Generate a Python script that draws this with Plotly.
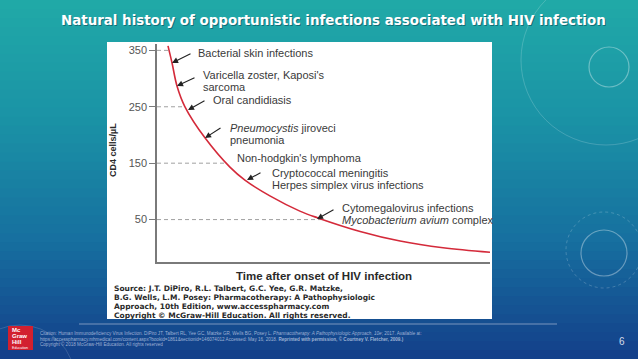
import numpy as np
import plotly.graph_objects as go

# ---------------- data ----------------
time_pts = [0.33, 0.45, 0.60, 0.84, 1.44, 2.19, 2.64, 3.39, 4.29, 4.83, 6.10, 7.30, 8.59, 10.0]
cd4_pts = [358, 328, 287, 250, 195, 143, 120, 92, 65, 53, 29, 12, 0, -8]
tick_vals = [50, 150, 250, 350]
tick_text = ["50", "150", "250", "350"]

W, H = 638, 359
L, R, T, B = 157, 490, 44, 262   # plot area in pixels


def px(x):
    return (x - L) / (R - L)


def py(y):
    return (B - y) / (B - T)


fig = go.Figure()

# dashed guides from axis to curve
t_rev = np.array(time_pts)[::-1]
c_rev = np.array(cd4_pts)[::-1]
for v in tick_vals:
    xe = float(np.interp(v, c_rev, t_rev))
    fig.add_trace(go.Scatter(x=[0, xe], y=[v, v], mode="lines",
                             line=dict(color="#a0a0a0", width=1, dash="4px,3px"),
                             hoverinfo="skip", showlegend=False))

fig.add_trace(go.Scatter(x=time_pts, y=cd4_pts, mode="lines",
                         line=dict(color="#d42a3a", width=1.6, shape="spline", smoothing=1.0),
                         showlegend=False, cliponaxis=True))

shapes = []
# background gradient stripes
stops = [(0, (33, 170, 168)), (120, (27, 147, 166)), (240, (23, 112, 160)), (359, (20, 63, 138))]
n = 40
for i in range(n):
    y0 = i * H / n
    y1 = (i + 1) * H / n + 0.8
    ym = (y0 + y1) / 2
    for k in range(len(stops) - 1):
        if stops[k][0] <= ym <= stops[k + 1][0] or k == len(stops) - 2:
            a, b = stops[k], stops[k + 1]
            break
    f = min(max((ym - a[0]) / (b[0] - a[0]), 0), 1)
    c = tuple(int(a[1][j] + f * (b[1][j] - a[1][j])) for j in range(3))
    shapes.append(dict(type="rect", xref="paper", yref="paper", x0=px(-2), x1=px(W + 2),
                       y0=py(y1), y1=py(y0), fillcolor="rgb(%d,%d,%d)" % c,
                       line=dict(width=0), layer="below"))


# decorative circles
def circ(cx, cy, r, color, dash="solid", w=1):
    shapes.append(dict(type="circle", xref="paper", yref="paper",
                       x0=px(cx - r), x1=px(cx + r), y0=py(cy + r), y1=py(cy - r),
                       line=dict(color=color, width=w, dash=dash), layer="below"))


circ(609, 67, 20, "rgba(255,255,255,0.35)", w=1.2)
circ(606, 60, 85, "rgba(255,255,255,0.18)")
circ(604, 253, 23, "rgba(255,255,255,0.35)", w=1.2)
circ(604, 250, 38, "rgba(255,255,255,0.2)", dash="dot")
circ(20, 380, 55, "rgba(255,255,255,0.15)")

# white picture box
shapes.append(dict(type="rect", xref="paper", yref="paper", x0=px(107), x1=px(492),
                   y0=py(319), y1=py(42), fillcolor="white", line=dict(width=0), layer="below"))
# thin line under box
shapes.append(dict(type="line", xref="paper", yref="paper", x0=px(79), x1=px(557),
                   y0=py(324), y1=py(324), line=dict(color="rgba(190,205,225,0.6)", width=1)))
# logo square
shapes.append(dict(type="rect", xref="paper", yref="paper", x0=px(8), x1=px(33),
                   y0=py(350), y1=py(326), fillcolor="#d2202f", line=dict(width=0)))

ann = []
FONT = "Liberation Sans, Arial, Helvetica, sans-serif"


def text(x, y, s, size=11, color="#3a3a3a", xanchor="left", **kw):
    ann.append(dict(x=px(x), y=py(y), xref="paper", yref="paper", text=s, showarrow=False,
                    xanchor=xanchor, yanchor="middle",
                    font=dict(family=kw.pop("family", FONT), size=size, color=color), **kw))


# title with shadow
TFONT = "DejaVu Sans Condensed, sans-serif"
ttl = "<b>Natural history of opportunistic infections associated with HIV infection</b>"
text(334.3, 21.3, ttl, size=14.9, color="rgba(0,40,60,0.45)", xanchor="center", family=TFONT)
text(333, 20, ttl, size=14.9, color="white", xanchor="center", family=TFONT)

# chart labels
labels = [
    (196, 53, "Bacterial skin infections"),
    (201, 75, "Varicella zoster, Kaposi's"),
    (201, 87, "sarcoma"),
    (211, 100, "Oral candidiasis"),
    (228, 128, "<i>Pneumocystis</i> jiroveci"),
    (228, 140, "pneumonia"),
    (235, 158, "Non-hodgkin's lymphoma"),
    (270, 173, "Cryptococcal meningitis"),
    (270, 185, "Herpes simplex virus infections"),
    (340, 208, "Cytomegalovirus infections"),
    (340, 220, "<i>Mycobacterium avium</i> complex"),
]
for x, y, s in labels:
    text(x, y, s)

# arrows (tail -> tip)
arrows = [((192, 53), (172, 63)), ((196, 77), (177, 86)), ((206, 100), (188, 110)),
          ((222, 127), (205, 138)), ((262, 172), (247, 180)), ((335, 209), (317, 219))]
for (tx, ty), (hx, hy) in arrows:
    ann.append(dict(x=px(hx), y=py(hy), xref="paper", yref="paper", text="",
                    showarrow=True, ax=tx - hx, ay=ty - hy, axref="pixel", ayref="pixel",
                    arrowhead=2, arrowsize=1.1, arrowwidth=1.1, arrowcolor="#222", standoff=0))

# axis titles
text(113, 150, "<b>CD4 cells/µL</b>", size=9, color="#2a2a2a", xanchor="center", textangle=-90)
text(324, 276, "<b>Time after onset of HIV infection</b>", size=11.5, color="#2a2a2a", xanchor="center")

# source text
src = ["Source: J.T. DiPiro, R.L. Talbert, G.C. Yee, G.R. Matzke,",
       "B.G. Wells, L.M. Posey: Pharmacotherapy: A Pathophysiologic",
       "Approach, 10th Edition, www.accesspharmacy.com",
       "Copyright © McGraw-Hill Education. All rights reserved."]
for i, s in enumerate(src):
    text(112, 288 + i * 9, "<b>%s</b>" % s, size=7.5, color="#2a2a2a",
         family="DejaVu Sans, Verdana, sans-serif")

# logo text
for i, s in enumerate(["Mc", "Graw", "Hill"]):
    text(10, 330 + i * 5.8, "<b>%s</b>" % s, size=6, color="white")
text(10, 347.5, "Education", size=3.6, color="white")

# citation
cit = ["Citation: Human Immunodeficiency Virus Infection. DiPiro JT, Talbert RL, Yee GC, Matzke GR, Wells BG, Posey L. "
       "<i>Pharmacotherapy: A Pathophysiologic Approach, 10e</i>; 2017. Available at:",
       "https://accesspharmacy.mhmedical.com/content.aspx?bookid=1861&sectionid=146074012 Accessed: May 16, 2018. "
       "<b>Reprinted with permission, © Courtney V. Fletcher, 2009.)</b>",
       "Copyright © 2018 McGraw-Hill Education. All rights reserved"]
for i, s in enumerate(cit):
    text(38, 333 + i * 5.7, s, size=4.6, color="rgba(205,215,235,0.75)")

text(622, 341, "6", size=10, color="#d5ddea", xanchor="center")

fig.update_layout(
    width=W, height=H,
    margin=dict(l=L, r=W - R, t=T, b=H - B, pad=0),
    paper_bgcolor="rgb(27,120,160)", plot_bgcolor="rgba(0,0,0,0)",
    shapes=shapes, annotations=ann, showlegend=False,
    xaxis=dict(range=[0, 10], showline=True, linecolor="#7a7a7a", linewidth=1.5,
               showgrid=False, zeroline=False, showticklabels=False, ticks=""),
    yaxis=dict(range=[-25.2, 361.3], showline=True, linecolor="#7a7a7a", linewidth=1.5,
               showgrid=False, zeroline=False, tickvals=tick_vals, ticktext=tick_text,
               ticks="outside", ticklen=6, tickcolor="#7a7a7a", tickwidth=1,
               tickfont=dict(family=FONT, size=11, color="#555")),
)

fig.write_html("out.html", config={"displayModeBar": False},
               post_script="document.body.style.margin='0';document.body.style.overflow='hidden';")
